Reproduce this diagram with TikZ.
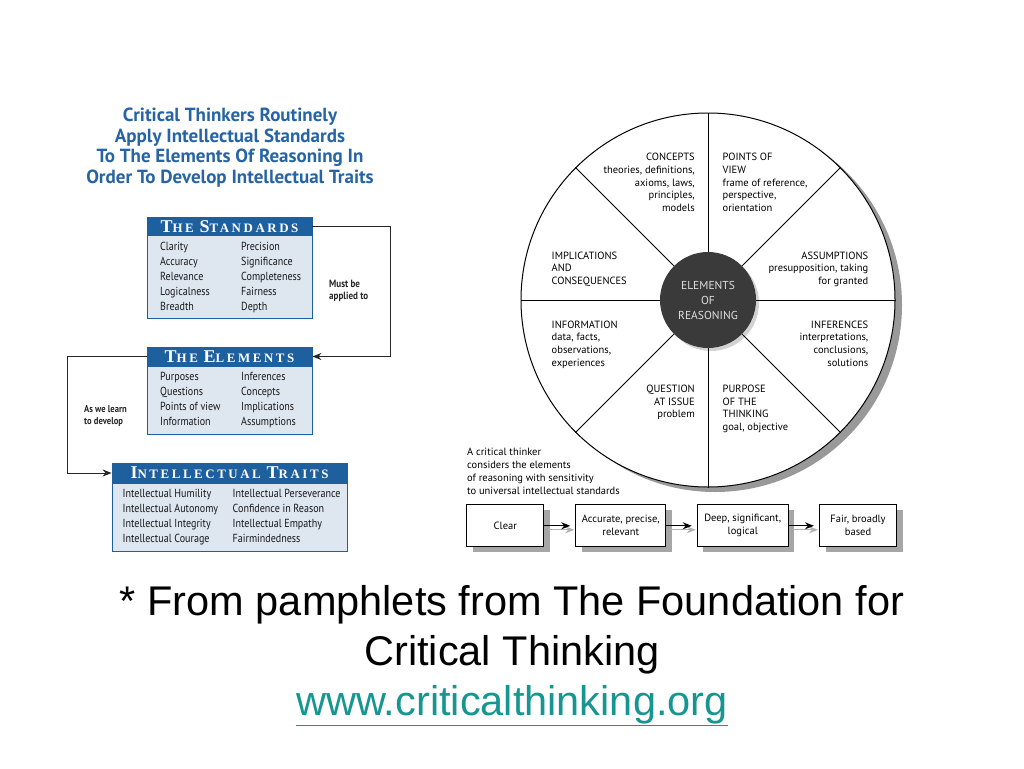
\documentclass[tikz,border=0pt]{standalone}
\usepackage{fontspec}
\usetikzlibrary{arrows.meta,calc,shadows}

\newfontfamily\condfont[FakeStretch=0.86]{PT Sans}
\newfontfamily\titlefont{PT Sans}
\newfontfamily\wheelfont{PT Sans}
\newfontfamily\capsfont[LetterSpace=20]{Liberation Serif}
\newfontfamily\slidefont{Liberation Sans}

\definecolor{titleblue}{RGB}{38,100,165}
\definecolor{hdblue}{RGB}{30,95,158}
\definecolor{boxfill}{RGB}{222,230,240}
\definecolor{hubgray}{RGB}{58,58,58}
\definecolor{linkteal}{RGB}{22,150,145}

% big first letter, rest in small caps size
\newcommand\hdword[2]{{\fontsize{18}{18}\selectfont #1}#2}

\tikzset{
  stdbody/.style={draw=hdblue,line width=0.8pt,fill=boxfill,inner sep=0pt},
  stdhead/.style={draw=hdblue,line width=0.8pt,fill=hdblue,text=white,inner sep=0pt,
    anchor=north,font=\capsfont\bfseries\fontsize{12.9}{12.9}\selectfont},
  listcol/.style={anchor=base west,align=left,inner sep=0pt,
    font=\condfont\fontsize{11.7}{15}\selectfont,text=black!90},
  sidenote/.style={anchor=base west,align=left,inner sep=0pt,
    font=\condfont\bfseries\fontsize{10.5}{12.5}\selectfont,text=black!85},
  wheeltext/.style={inner sep=0pt,font=\wheelfont\fontsize{10.5}{12.8}\selectfont},
  critbox/.style={draw,line width=1.1pt,fill=white,minimum height=42pt,align=center,
    inner sep=2pt,font=\wheelfont\fontsize{10.5}{13}\selectfont,
    drop shadow={shadow xshift=6pt,shadow yshift=-5pt,fill=gray!70,opacity=1}},
  flowarrow/.style={->,line width=1.1pt,shorten >=5pt},
  flowshade/.style={->,line width=1.1pt,shorten >=5pt,gray!60,
    transform canvas={shift={(4pt,-4pt)}}},
  linkarrow/.style={->,line width=1pt,black!85}
}

\begin{document}
\begin{tikzpicture}[x=1pt,y=-1pt,>={Stealth[length=9pt,width=7pt]}]
\useasboundingbox[fill=white] (0,0) rectangle (1024,768);

% title (base = last line)
\node[anchor=base,align=center,inner sep=0pt,text=titleblue,
  font=\titlefont\bfseries\fontsize{19}{20.7}\selectfont] (title) at (230,183.6)
  {Critical Thinkers Routinely\\Apply Intellectual Standards\\
   To The Elements Of Reasoning In\\Order To Develop Intellectual Traits};

% the three lists
\node[stdbody,minimum width=165pt,minimum height=101pt] (std) at (229.5,267.5) {};
\node[stdhead,minimum width=165pt,minimum height=18.5pt] (stdhd) at (std.north)
  {\hdword{T}{HE} \hdword{S}{TANDARDS}};
\node[listcol] (stdl) at (160,310.7)
  {Clarity\\Accuracy\\Relevance\\Logicalness\\Breadth};
\node[listcol] (stdr) at (241,310.7)
  {Precision\\Significance\\Completeness\\Fairness\\Depth};

\node[stdbody,minimum width=165pt,minimum height=87pt] (elm) at (229.5,390.5) {};
\node[stdhead,minimum width=165pt,minimum height=19pt] (elmhd) at (elm.north)
  {\hdword{T}{HE} \hdword{E}{LEMENTS}};
\node[listcol] (elml) at (160,425.7)
  {Purposes\\Questions\\Points of view\\Information};
\node[listcol] (elmr) at (241,425.7)
  {Inferences\\Concepts\\Implications\\Assumptions};

\node[stdbody,minimum width=235pt,minimum height=88pt] (tr) at (229.5,507) {};
\node[stdhead,minimum width=235pt,minimum height=20pt] (trhd) at (tr.north)
  {\hdword{I}{NTELLECTUAL} \hdword{T}{RAITS}};
\node[listcol] (trl) at (122.5,542.3)
  {Intellectual Humility\\Intellectual Autonomy\\Intellectual Integrity\\Intellectual Courage};
\node[listcol] (trr) at (232.5,542.3)
  {Intellectual Perseverance\\Confidence in Reason\\Intellectual Empathy\\Fairmindedness};

\draw[linkarrow] (stdhd.east) -- ++(78,0) |- (elmhd.east);
\draw[linkarrow] (elmhd.west) -- ++(-79,0) |- (trhd.west);
\node[sidenote] (must) at (329,299.5) {Must be\\applied to};
\node[sidenote,font=\condfont\bfseries\fontsize{10}{12}\selectfont] (learn) at (84,424)
  {As we learn\\to develop};

% the wheel
\node[circle,draw,line width=1pt,fill=white,minimum size=374pt,inner sep=0pt,
  drop shadow={shadow xshift=7pt,shadow yshift=-5pt,fill=gray!80,opacity=1}]
  (wheel) at (708,300) {};
\node[circle,fill=hubgray,minimum size=96pt,inner sep=0pt,align=center,text=gray!25,
  font=\wheelfont\fontsize{11.5}{15}\selectfont,
  drop shadow={shadow xshift=3pt,shadow yshift=-3pt,fill=gray!35,opacity=1}]
  (hub) at (708,300) {ELEMENTS\\OF\\REASONING};
\foreach \a in {0,45,...,315}
  \draw[line width=1pt] (hub.\a) -- (wheel.\a);

\node[wheeltext,anchor=base east,align=right] (concepts) at (695,211.7)
  {CONCEPTS\\theories, definitions,\\axioms, laws,\\principles,\\models};
\node[wheeltext,anchor=base west,align=left] (view) at (722.5,211.7)
  {POINTS OF\\VIEW\\frame of reference,\\perspective,\\orientation};
\node[wheeltext,anchor=base west,align=left] (implic) at (551.5,284.6)
  {IMPLICATIONS\\AND\\CONSEQUENCES};
\node[wheeltext,anchor=base east,align=right] (assum) at (868.5,284.6)
  {ASSUMPTIONS\\presupposition, taking\\for granted};
\node[wheeltext,anchor=base west,align=left] (info) at (551.5,366.4)
  {INFORMATION\\data, facts,\\observations,\\experiences};
\node[wheeltext,anchor=base east,align=right] (infer) at (868.5,366.4)
  {INFERENCES\\interpretations,\\conclusions,\\solutions};
\node[wheeltext,anchor=base east,align=right] (quest) at (695,417.9)
  {QUESTION\\AT ISSUE\\problem};
\node[wheeltext,anchor=base west,align=left] (purp) at (722.5,430.7)
  {PURPOSE\\OF THE\\THINKING\\goal, objective};

\node[wheeltext,anchor=base west,align=left,font=\wheelfont\fontsize{10.5}{13.3}\selectfont]
  (note) at (467,494.9)
  {A critical thinker\\considers the elements\\of reasoning with sensitivity\\
   to universal intellectual standards};

% standards in a row
\node[critbox,minimum width=77pt] (clear) at (505.3,525.8) {Clear};
\node[critbox,minimum width=90pt] (accur) at (620.8,525.8) {Accurate, precise,\\relevant};
\node[critbox,minimum width=91pt] (deep) at (742.8,525.8) {Deep, significant,\\logical};
\node[critbox,minimum width=77pt] (fair) at (858,525.8) {Fair, broadly\\based};
\foreach \a/\b in {clear/accur,accur/deep,deep/fair}{
  \draw[flowshade] (\a) -- (\b);
  \draw[flowarrow] (\a) -- (\b);
}

% source line (base = last line)
\node[anchor=base,align=center,inner sep=0pt,
  font=\slidefont\fontsize{41.5}{50}\selectfont] (source) at (512,715)
  {* From pamphlets from The Foundation for\\Critical Thinking\\
   \textcolor{linkteal}{\underline{www.criticalthinking.org}}};
\end{tikzpicture}
\end{document}
